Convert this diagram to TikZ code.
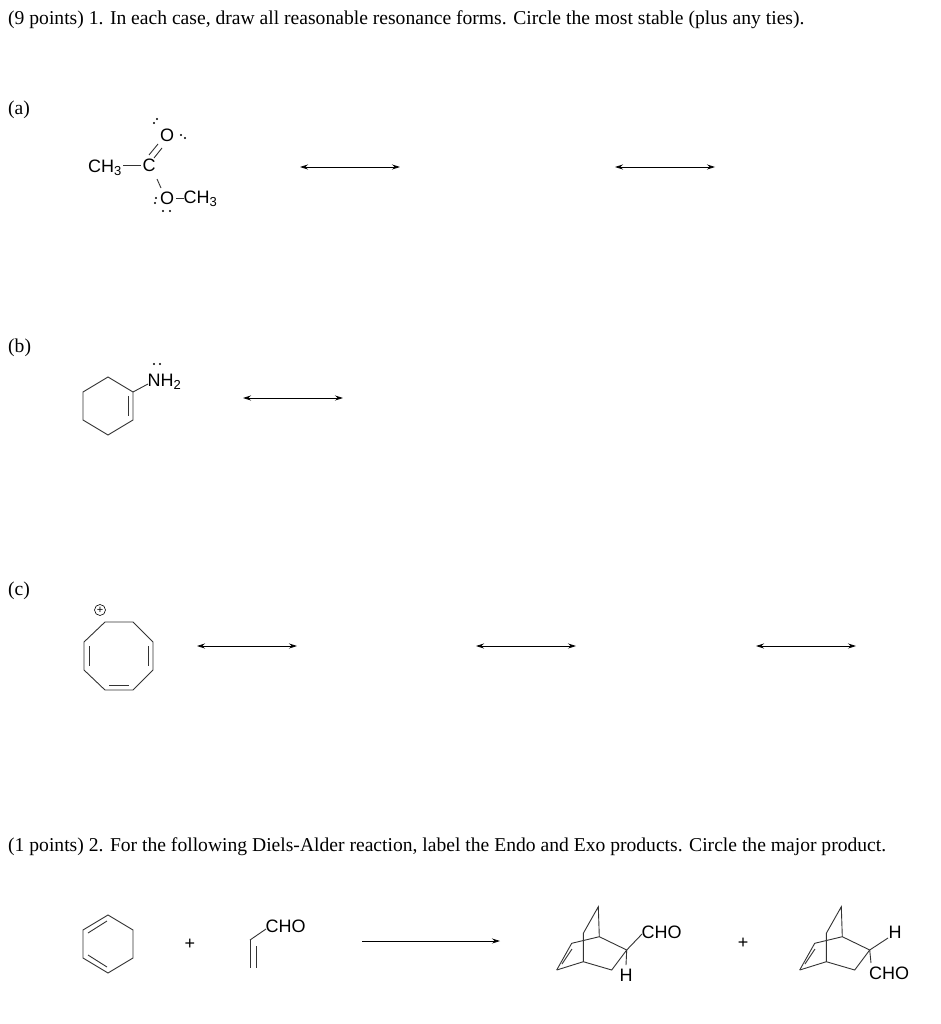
\documentclass[tikz,border=0pt]{standalone}
\usepackage{fontspec}
\setmainfont{Liberation Serif}
\newfontfamily\chemf{Liberation Sans}
\usetikzlibrary{arrows.meta}
\newcommand{\sbs}[1]{\raisebox{-0.3ex}{\fontsize{13}{13}\selectfont #1}}
\begin{document}
\begin{tikzpicture}[x=1pt,y=-1pt,
  bond/.style={line width=0.9pt,black!80},
  lbl/.style={font=\chemf\fontsize{18}{18}\selectfont,inner sep=0.5pt},
  txt/.style={font=\fontsize{19.6}{22}\selectfont,anchor=west,inner sep=0pt},
  resarrow/.style={line width=0.8pt,{Stealth[length=8pt,width=5pt]}-{Stealth[length=8pt,width=5pt]}},
  dot/.style={circle,fill=black,inner sep=0pt,minimum size=2.4pt}]
\fill[white] (0,0) rectangle (941,1024);
\useasboundingbox (0,0) rectangle (941,1024);

\node[txt] (h1) at (8,20) {(9 points) 1. In each case, draw all reasonable resonance forms. Circle the most stable (plus any ties).};
\node[txt] (la) at (8,110) {(a)};
\node[txt] (lb) at (8,348) {(b)};
\node[txt] (lc) at (8,591) {(c)};
\node[txt] (h2) at (8,847) {(1 points) 2. For the following Diels-Alder reaction, label the Endo and Exo products. Circle the major product.};

% (a)
\node[lbl,anchor=east] (ch3a) at (122,168) {CH\sbs{3}};
\node[lbl] (ca) at (149,165) {C};
\node[lbl] (o1) at (167,135) {O};
\node[lbl] (o2) at (167,198) {O};
\node[lbl,anchor=west] (ch3b) at (183,199) {CH\sbs{3}};
\coordinate (ab1) at (123,165); \coordinate (ab2) at (141,165);
\draw[bond] (ab1) -- (ab2);
\draw[bond] (149,155) -- (158,144);
\draw[bond] (154,158) -- (162,148);
\draw[bond] (157,179) -- (161,188);
\draw[bond] (176,198) -- (184,198);
\node[dot] (d1) at (154,123) {}; \node[dot] (d2) at (157,119) {};
\node[dot] (d3) at (181,135) {}; \node[dot] (d4) at (185,138) {};
\node[dot] (d5) at (156,198) {}; \node[dot] (d6) at (155,203) {};
\node[dot] (d7) at (163,211) {}; \node[dot] (d8) at (170,211) {};
\coordinate (a1l) at (300,167); \coordinate (a1r) at (400,167);
\coordinate (a2l) at (615,167); \coordinate (a2r) at (715,167);
\draw[resarrow] (a1l) -- (a1r);
\draw[resarrow] (a2l) -- (a2r);

% (b)
\coordinate (b1) at (108,377); \coordinate (b2) at (133,392); \coordinate (b3) at (133,420);
\coordinate (b4) at (108,435); \coordinate (b5) at (83,420); \coordinate (b6) at (83,392);
\draw[bond] (b1)--(b2)--(b3)--(b4)--(b5)--(b6)--cycle;
\draw[bond] (128,396)--(128,416);
\node[lbl,anchor=west] (nh2) at (147,382) {NH\sbs{2}};
\draw[bond] (b2) -- (148,384);
\node[dot] (d9) at (154,364) {}; \node[dot] (d10) at (160,364) {};
\coordinate (b1l) at (243,398); \coordinate (b1r) at (343,398);
\draw[resarrow] (b1l) -- (b1r);

% (c)
\coordinate (c1) at (105,622); \coordinate (c2) at (133,622); \coordinate (c3) at (153,642);
\coordinate (c4) at (153,670); \coordinate (c5) at (133,690); \coordinate (c6) at (105,690);
\coordinate (c7) at (84,670); \coordinate (c8) at (84,642);
\draw[bond] (c1)--(c2)--(c3)--(c4)--(c5)--(c6)--(c7)--(c8)--cycle;
\draw[bond] (148,646)--(148,666);
\draw[bond] (109,685)--(129,685);
\draw[bond] (89,646)--(89,666);
\node[circle,draw,line width=0.6pt,minimum size=11pt,inner sep=0pt,font=\chemf\fontsize{11}{11}\selectfont] (plus) at (100,610) {+};
\coordinate (c1l) at (197,646); \coordinate (c1r) at (297,646);
\coordinate (c2l) at (476,646); \coordinate (c2r) at (576,646);
\coordinate (c3l) at (756,646); \coordinate (c3r) at (856,646);
\draw[resarrow] (c1l) -- (c1r);
\draw[resarrow] (c2l) -- (c2r);
\draw[resarrow] (c3l) -- (c3r);

% Diels-Alder
\coordinate (e1) at (108,915); \coordinate (e2) at (133,930); \coordinate (e3) at (133,958);
\coordinate (e4) at (108,973); \coordinate (e5) at (83,958); \coordinate (e6) at (83,930);
\draw[bond] (e1)--(e2)--(e3)--(e4)--(e5)--(e6)--cycle;
\draw[bond] (88,933)--(107,921);
\draw[bond] (88,955)--(107,967);
\node[lbl] (p1) at (190,944) {+};
\coordinate (v1) at (250,940); \coordinate (v2) at (250,968);
\draw[bond] (v1)--(v2); \draw[bond] (256,946)--(256,968);
\node[lbl,anchor=west] (cho0) at (265,926) {CHO};
\draw[bond] (v1) -- (266,929);
\coordinate (rl) at (362,941); \coordinate (rr) at (500,941);
\draw[line width=0.8pt,-{Stealth[length=8pt,width=5pt]}] (rl)--(rr);

% product 1
\coordinate (q1) at (556.7,970); \coordinate (q2) at (571.7,943.3);
\coordinate (qb1) at (583.3,961.7); \coordinate (qt1) at (583.3,933.3);
\coordinate (qt2) at (598.3,906.7); \coordinate (qb2) at (599.3,936.7);
\coordinate (q6) at (626.7,950); \coordinate (q7) at (611.7,970);
\draw[bond] (q1)--(q2)--(qb2); \draw[bond] (q1)--(qb1);
\draw[bond] (562,964)--(572,949);
\draw[bond] (qb1)--(qt1)--(qt2)--(qb2)--(q6)--(q7)--(qb1);
\node[lbl,anchor=west] (cho1) at (641,932) {CHO};
\draw[bond] (q6)--(642,934);
\node[lbl] (hh1) at (626,975) {H};
\draw[bond] (q6)--(626,965);
\node[lbl] (p2) at (743,943) {+};
% product 2
\begin{scope}[xshift=243pt]
\coordinate (r1) at (556.7,970); \coordinate (r2) at (571.7,943.3);
\coordinate (rb1) at (583.3,961.7); \coordinate (rt1) at (583.3,933.3);
\coordinate (rt2) at (598.3,906.7); \coordinate (rb2) at (599.3,936.7);
\coordinate (r6) at (626.7,950); \coordinate (r7) at (611.7,970);
\draw[bond] (r1)--(r2)--(rb2); \draw[bond] (r1)--(rb1);
\draw[bond] (562,964)--(572,949);
\draw[bond] (rb1)--(rt1)--(rt2)--(rb2)--(r6)--(r7)--(rb1);
\node[lbl] (hh2) at (652,932) {H};
\draw[bond] (r6)--(645,938);
\node[lbl] (cho2) at (646,973) {CHO};
\draw[bond] (r6)--(628,963);
\end{scope}
\end{tikzpicture}
\end{document}
